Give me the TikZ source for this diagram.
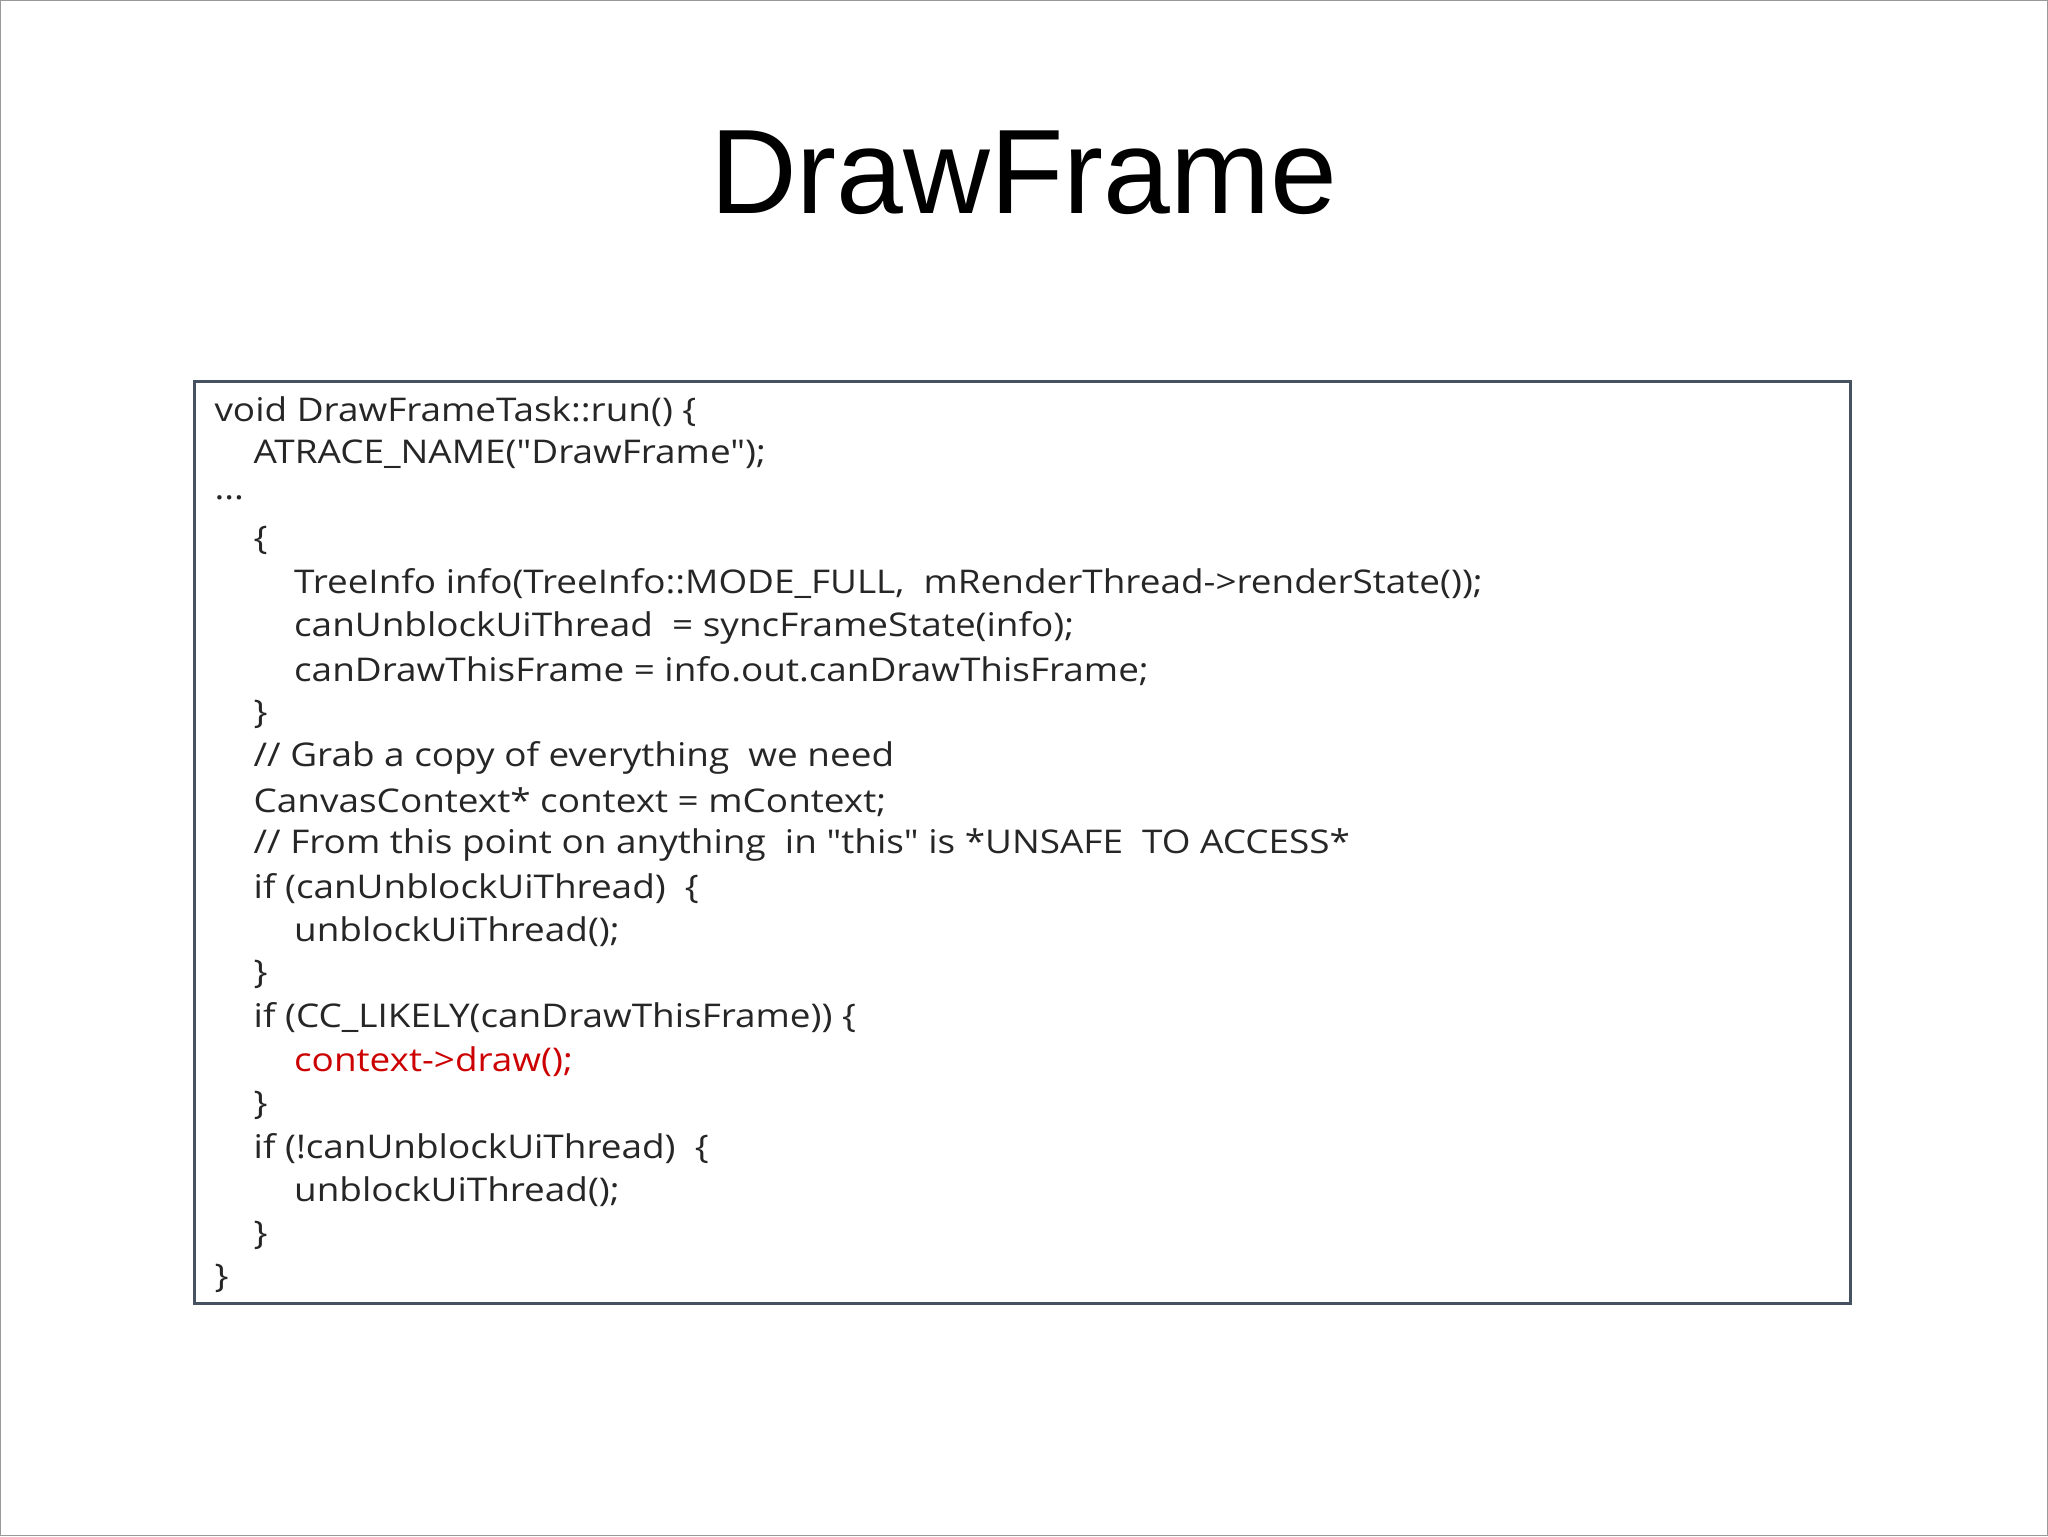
\documentclass[tikz,border=0pt]{standalone}
\usepackage{fontspec}
\setmainfont{Open Sans}
\newfontfamily\codefont{Open Sans}
\newfontfamily\titlefont{Liberation Sans}
\definecolor{boxc}{RGB}{70,82,98}
\begin{document}
\begin{tikzpicture}[x=1pt,y=-1pt,
  code/.style={anchor=west,inner sep=0pt,font=\codefont\fontsize{25}{25}\selectfont,text=black!85,xscale=1.13}]
\useasboundingbox (0,0) rectangle (1568,1176);
\draw[black!40,line width=1pt] (0.5,0.5) rectangle (1567.5,1175.5);
\node[font=\titlefont\fontsize{92}{92}\selectfont] (title) at (784,132) {DrawFrame};
\draw[draw=boxc,line width=2.5pt,fill=white] (149,292) rectangle (1417,998);
\node[code] (l1) at (164,315) {void DrawFrameTask::run() \{};
\node[code] (l2) at (194,348) {ATRACE\_NAME("DrawFrame");};
\node[code] (l3) at (164,381) {...};
\node[code] (l4) at (194,414) {\{};
\node[code] (l5) at (225,447) {TreeInfo info(TreeInfo::MODE\_FULL, \ mRenderThread->renderState());};
\node[code] (l6) at (225,481) {canUnblockUiThread \ = syncFrameState(info);};
\node[code] (l7) at (225,514) {canDrawThisFrame = info.out.canDrawThisFrame;};
\node[code] (l8) at (194,547) {\}};
\node[code] (l9) at (194,580) {// Grab a copy of everything \ we need};
\node[code] (l10) at (194,614) {CanvasContext* context = mContext;};
\node[code] (l11) at (194,647) {// From this point on anything \ in "this" is *UNSAFE \ TO ACCESS*};
\node[code] (l12) at (194,680) {if (canUnblockUiThread) \ \{};
\node[code] (l13) at (225,713) {unblockUiThread();};
\node[code] (l14) at (194,746) {\}};
\node[code] (l15) at (194,779) {if (CC\_LIKELY(canDrawThisFrame)) \{};
\node[code,text=red!80!black] (l16) at (225,813) {context->draw();};
\node[code] (l17) at (194,846) {\}};
\node[code] (l18) at (194,879) {if (!canUnblockUiThread) \ \{};
\node[code] (l19) at (225,912) {unblockUiThread();};
\node[code] (l20) at (194,946) {\}};
\node[code] (l21) at (164,979) {\}};
\end{tikzpicture}
\end{document}
